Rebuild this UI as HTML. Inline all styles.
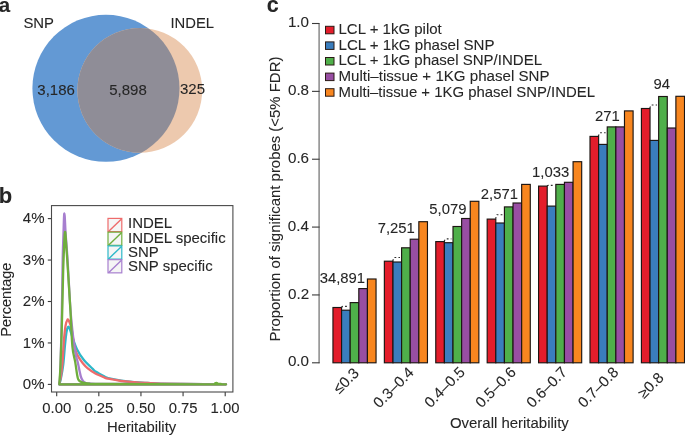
<!DOCTYPE html>
<html><head><meta charset="utf-8"><style>
html,body{margin:0;padding:0;background:#fff;width:685px;height:436px;overflow:hidden}
svg{display:block;will-change:transform}
text{font-family:"Liberation Sans",sans-serif;fill:#262626;stroke:#262626;stroke-width:0.08px}
</style></head><body>
<svg width="685" height="436" viewBox="0 0 685 436">
<rect width="685" height="436" fill="#fff"/>
<rect x="332.95" y="307.50" width="8.62" height="55.30" fill="#E31D2B" stroke="#1c1512" stroke-width="1.15"/>
<rect x="341.57" y="310.20" width="8.62" height="52.60" fill="#3A7DBD" stroke="#1c1512" stroke-width="1.15"/>
<rect x="350.19" y="302.60" width="8.62" height="60.20" fill="#4FAF4A" stroke="#1c1512" stroke-width="1.15"/>
<rect x="358.81" y="288.60" width="8.62" height="74.20" fill="#984EA3" stroke="#1c1512" stroke-width="1.15"/>
<rect x="367.43" y="279.00" width="8.62" height="83.80" fill="#F8861F" stroke="#1c1512" stroke-width="1.15"/>
<rect x="384.36" y="261.20" width="8.62" height="101.60" fill="#E31D2B" stroke="#1c1512" stroke-width="1.15"/>
<rect x="392.98" y="262.00" width="8.62" height="100.80" fill="#3A7DBD" stroke="#1c1512" stroke-width="1.15"/>
<rect x="401.60" y="247.80" width="8.62" height="115.00" fill="#4FAF4A" stroke="#1c1512" stroke-width="1.15"/>
<rect x="410.22" y="239.20" width="8.62" height="123.60" fill="#984EA3" stroke="#1c1512" stroke-width="1.15"/>
<rect x="418.84" y="221.70" width="8.62" height="141.10" fill="#F8861F" stroke="#1c1512" stroke-width="1.15"/>
<rect x="435.77" y="241.60" width="8.62" height="121.20" fill="#E31D2B" stroke="#1c1512" stroke-width="1.15"/>
<rect x="444.39" y="242.70" width="8.62" height="120.10" fill="#3A7DBD" stroke="#1c1512" stroke-width="1.15"/>
<rect x="453.01" y="226.50" width="8.62" height="136.30" fill="#4FAF4A" stroke="#1c1512" stroke-width="1.15"/>
<rect x="461.63" y="218.50" width="8.62" height="144.30" fill="#984EA3" stroke="#1c1512" stroke-width="1.15"/>
<rect x="470.25" y="201.30" width="8.62" height="161.50" fill="#F8861F" stroke="#1c1512" stroke-width="1.15"/>
<rect x="487.18" y="219.10" width="8.62" height="143.70" fill="#E31D2B" stroke="#1c1512" stroke-width="1.15"/>
<rect x="495.80" y="223.00" width="8.62" height="139.80" fill="#3A7DBD" stroke="#1c1512" stroke-width="1.15"/>
<rect x="504.42" y="206.90" width="8.62" height="155.90" fill="#4FAF4A" stroke="#1c1512" stroke-width="1.15"/>
<rect x="513.04" y="203.00" width="8.62" height="159.80" fill="#984EA3" stroke="#1c1512" stroke-width="1.15"/>
<rect x="521.66" y="184.40" width="8.62" height="178.40" fill="#F8861F" stroke="#1c1512" stroke-width="1.15"/>
<rect x="538.59" y="186.10" width="8.62" height="176.70" fill="#E31D2B" stroke="#1c1512" stroke-width="1.15"/>
<rect x="547.21" y="206.10" width="8.62" height="156.70" fill="#3A7DBD" stroke="#1c1512" stroke-width="1.15"/>
<rect x="555.83" y="184.40" width="8.62" height="178.40" fill="#4FAF4A" stroke="#1c1512" stroke-width="1.15"/>
<rect x="564.45" y="182.30" width="8.62" height="180.50" fill="#984EA3" stroke="#1c1512" stroke-width="1.15"/>
<rect x="573.07" y="161.70" width="8.62" height="201.10" fill="#F8861F" stroke="#1c1512" stroke-width="1.15"/>
<rect x="590.00" y="136.40" width="8.62" height="226.40" fill="#E31D2B" stroke="#1c1512" stroke-width="1.15"/>
<rect x="598.62" y="144.40" width="8.62" height="218.40" fill="#3A7DBD" stroke="#1c1512" stroke-width="1.15"/>
<rect x="607.24" y="126.90" width="8.62" height="235.90" fill="#4FAF4A" stroke="#1c1512" stroke-width="1.15"/>
<rect x="615.86" y="126.90" width="8.62" height="235.90" fill="#984EA3" stroke="#1c1512" stroke-width="1.15"/>
<rect x="624.48" y="110.90" width="8.62" height="251.90" fill="#F8861F" stroke="#1c1512" stroke-width="1.15"/>
<rect x="641.41" y="108.50" width="8.62" height="254.30" fill="#E31D2B" stroke="#1c1512" stroke-width="1.15"/>
<rect x="650.03" y="140.40" width="8.62" height="222.40" fill="#3A7DBD" stroke="#1c1512" stroke-width="1.15"/>
<rect x="658.65" y="96.50" width="8.62" height="266.30" fill="#4FAF4A" stroke="#1c1512" stroke-width="1.15"/>
<rect x="667.27" y="128.00" width="8.62" height="234.80" fill="#984EA3" stroke="#1c1512" stroke-width="1.15"/>
<rect x="675.89" y="96.30" width="8.62" height="266.50" fill="#F8861F" stroke="#1c1512" stroke-width="1.15"/>
<path d="M341.27 307.20 L342.77 306.40 H348.57" fill="none" stroke="#2a2a2a" stroke-width="1.15" stroke-dasharray="1.8 2.2"/>
<path d="M392.68 260.90 L394.18 257.50 H399.98" fill="none" stroke="#2a2a2a" stroke-width="1.15" stroke-dasharray="1.8 2.2"/>
<path d="M444.09 241.30 L445.59 238.90 H451.39" fill="none" stroke="#2a2a2a" stroke-width="1.15" stroke-dasharray="1.8 2.2"/>
<path d="M495.50 218.80 L497.00 214.70 H502.80" fill="none" stroke="#2a2a2a" stroke-width="1.15" stroke-dasharray="1.8 2.2"/>
<path d="M546.91 185.80 L548.41 185.30 H554.21" fill="none" stroke="#2a2a2a" stroke-width="1.15" stroke-dasharray="1.8 2.2"/>
<path d="M598.32 136.10 L599.82 132.70 H605.62" fill="none" stroke="#2a2a2a" stroke-width="1.15" stroke-dasharray="1.8 2.2"/>
<path d="M649.73 108.20 L651.23 105.00 H657.03" fill="none" stroke="#2a2a2a" stroke-width="1.15" stroke-dasharray="1.8 2.2"/>
<line x1="319.1" y1="23.5" x2="319.1" y2="363.3" stroke="#808080" stroke-width="1.4"/>
<line x1="312" y1="362.80" x2="319.6" y2="362.80" stroke="#3a3a3a" stroke-width="1.1"/>
<line x1="312" y1="294.94" x2="319.6" y2="294.94" stroke="#3a3a3a" stroke-width="1.1"/>
<line x1="312" y1="227.08" x2="319.6" y2="227.08" stroke="#3a3a3a" stroke-width="1.1"/>
<line x1="312" y1="159.22" x2="319.6" y2="159.22" stroke="#3a3a3a" stroke-width="1.1"/>
<line x1="312" y1="91.36" x2="319.6" y2="91.36" stroke="#3a3a3a" stroke-width="1.1"/>
<line x1="312" y1="23.50" x2="319.6" y2="23.50" stroke="#3a3a3a" stroke-width="1.1"/>
<text transform="translate(280.3,341.49) rotate(-90)" font-size="14.93">Proportion of significant probes (&lt;5% FDR)</text>
<text transform="translate(359.90,374.00) rotate(-45)" font-size="15.0" text-anchor="end">≤0.3</text>
<text transform="translate(414.71,373.40) rotate(-45)" font-size="15.0" text-anchor="end">0.3–0.4</text>
<text transform="translate(465.82,373.00) rotate(-45)" font-size="15.0" text-anchor="end">0.4–0.5</text>
<text transform="translate(516.83,373.20) rotate(-45)" font-size="15.0" text-anchor="end">0.5–0.6</text>
<text transform="translate(567.94,373.20) rotate(-45)" font-size="15.0" text-anchor="end">0.6–0.7</text>
<text transform="translate(619.35,373.20) rotate(-45)" font-size="15.0" text-anchor="end">0.7–0.8</text>
<text transform="translate(664.56,378.60) rotate(-45)" font-size="15.0" text-anchor="end">≥0.8</text>
<rect x="325.5" y="26.30" width="8.5" height="7.5" fill="#E31D2B" stroke="#2a1a14" stroke-width="1"/>
<rect x="325.5" y="41.90" width="8.5" height="7.5" fill="#3A7DBD" stroke="#2a1a14" stroke-width="1"/>
<rect x="325.5" y="57.50" width="8.5" height="7.5" fill="#4FAF4A" stroke="#2a1a14" stroke-width="1"/>
<rect x="325.5" y="73.10" width="8.5" height="7.5" fill="#984EA3" stroke="#2a1a14" stroke-width="1"/>
<rect x="325.5" y="88.70" width="8.5" height="7.5" fill="#F8861F" stroke="#2a1a14" stroke-width="1"/>
<clipPath id="cb"><circle cx="105.95" cy="88.3" r="73.55"/></clipPath>
<circle cx="105.95" cy="88.3" r="73.55" fill="#6399D4"/>
<circle cx="139.8" cy="90.3" r="62.4" fill="#EDC9AE"/>
<circle cx="139.8" cy="90.3" r="62.4" fill="#8F8D97" clip-path="url(#cb)"/>
<line x1="47.8" y1="384.40" x2="51.5" y2="384.40" stroke="#3a3a3a" stroke-width="1.1"/>
<line x1="47.8" y1="342.95" x2="51.5" y2="342.95" stroke="#3a3a3a" stroke-width="1.1"/>
<line x1="47.8" y1="301.50" x2="51.5" y2="301.50" stroke="#3a3a3a" stroke-width="1.1"/>
<line x1="47.8" y1="260.05" x2="51.5" y2="260.05" stroke="#3a3a3a" stroke-width="1.1"/>
<line x1="47.8" y1="218.60" x2="51.5" y2="218.60" stroke="#3a3a3a" stroke-width="1.1"/>
<line x1="56.70" y1="392.0" x2="56.70" y2="396.3" stroke="#3a3a3a" stroke-width="1.1"/>
<line x1="98.83" y1="392.0" x2="98.83" y2="396.3" stroke="#3a3a3a" stroke-width="1.1"/>
<line x1="140.95" y1="392.0" x2="140.95" y2="396.3" stroke="#3a3a3a" stroke-width="1.1"/>
<line x1="183.07" y1="392.0" x2="183.07" y2="396.3" stroke="#3a3a3a" stroke-width="1.1"/>
<line x1="225.20" y1="392.0" x2="225.20" y2="396.3" stroke="#3a3a3a" stroke-width="1.1"/>
<text transform="translate(10.9,336.76) rotate(-90)" font-size="14.49">Percentage</text>
<rect x="51.5" y="205.6" width="181.40" height="186.40" fill="none" stroke="#4a4a4a" stroke-width="1.1"/>
<path d="M59.30 384.30 C59.58 383.25 60.33 381.38 61.00 378.00 C61.67 374.62 62.63 369.50 63.30 364.00 C63.97 358.50 64.47 350.33 65.00 345.00 C65.53 339.67 66.02 334.95 66.50 332.00 C66.98 329.05 67.40 327.97 67.90 327.30 C68.40 326.63 68.73 326.30 69.50 328.00 C70.27 329.70 71.23 333.93 72.50 337.50 C73.77 341.07 75.27 345.73 77.10 349.40 C78.93 353.07 80.90 356.25 83.50 359.50 C86.10 362.75 90.62 366.85 92.70 368.90 C94.78 370.95 94.02 370.53 96.00 371.80 C97.98 373.07 102.58 375.47 104.60 376.50 C106.62 377.53 105.32 377.32 108.10 378.00 C110.88 378.68 116.92 379.90 121.30 380.60 C125.68 381.30 130.02 381.80 134.40 382.20 C138.78 382.60 143.22 382.77 147.60 383.00 C151.98 383.23 154.47 383.43 160.70 383.60 C166.93 383.77 174.12 383.88 185.00 384.00 C195.88 384.12 219.17 384.25 226.00 384.30 L59.30 384.30" fill="none" stroke="#2DB8C9" stroke-width="2.3" stroke-linejoin="round" stroke-linecap="round"/>
<path d="M59.30 384.30 C59.58 382.92 60.48 379.38 61.00 376.00 C61.52 372.62 61.93 369.67 62.40 364.00 C62.87 358.33 63.28 348.33 63.80 342.00 C64.32 335.67 64.90 329.70 65.50 326.00 C66.10 322.30 66.82 320.63 67.40 319.80 C67.98 318.97 68.30 319.47 69.00 321.00 C69.70 322.53 70.93 326.17 71.60 329.00 C72.27 331.83 72.55 335.25 73.00 338.00 C73.45 340.75 73.80 343.17 74.30 345.50 C74.80 347.83 75.23 349.97 76.00 352.00 C76.77 354.03 77.73 355.78 78.90 357.70 C80.07 359.62 81.47 361.67 83.00 363.50 C84.53 365.33 86.03 367.02 88.10 368.70 C90.17 370.38 92.65 372.12 95.40 373.60 C98.15 375.08 102.48 376.75 104.60 377.60 C106.72 378.45 105.32 378.13 108.10 378.70 C110.88 379.27 116.92 380.42 121.30 381.00 C125.68 381.58 130.02 381.87 134.40 382.20 C138.78 382.53 143.22 382.77 147.60 383.00 C151.98 383.23 154.47 383.43 160.70 383.60 C166.93 383.77 174.12 383.88 185.00 384.00 C195.88 384.12 219.17 384.25 226.00 384.30 L59.30 384.30" fill="none" stroke="#EE6B6B" stroke-width="2.3" stroke-linejoin="round" stroke-linecap="round"/>
<path d="M59.30 384.30 C59.47 382.25 59.90 382.72 60.30 372.00 C60.70 361.28 61.30 338.83 61.70 320.00 C62.10 301.17 62.40 273.50 62.70 259.00 C63.00 244.50 63.27 240.23 63.50 233.00 C63.73 225.77 63.90 218.47 64.10 215.60 C64.30 212.73 64.45 212.90 64.70 215.80 C64.95 218.70 65.13 225.80 65.60 233.00 C66.07 240.20 66.68 246.17 67.50 259.00 C68.32 271.83 69.50 296.50 70.50 310.00 C71.50 323.50 72.62 332.50 73.50 340.00 C74.38 347.50 75.10 351.33 75.80 355.00 C76.50 358.67 76.87 358.43 77.70 362.00 C78.53 365.57 79.92 373.23 80.80 376.40 C81.68 379.57 82.30 379.98 83.00 381.00 C83.70 382.02 83.83 382.08 85.00 382.50 C86.17 382.92 84.17 383.25 90.00 383.50 C95.83 383.75 97.33 383.87 120.00 384.00 C142.67 384.13 208.33 384.25 226.00 384.30 L59.30 384.30" fill="none" stroke="#A77FCF" stroke-width="2.3" stroke-linejoin="round" stroke-linecap="round"/>
<path d="M59.30 384.30 C59.50 381.08 60.05 375.72 60.50 365.00 C60.95 354.28 61.55 335.83 62.00 320.00 C62.45 304.17 62.80 283.33 63.20 270.00 C63.60 256.67 64.10 246.28 64.40 240.00 C64.70 233.72 64.80 232.97 65.00 232.30 C65.20 231.63 65.23 231.55 65.60 236.00 C65.97 240.45 66.40 246.67 67.20 259.00 C68.00 271.33 69.53 295.38 70.40 310.00 C71.27 324.62 71.60 338.05 72.40 346.70 C73.20 355.35 74.43 357.35 75.20 361.90 C75.97 366.45 76.48 371.07 77.00 374.00 C77.52 376.93 77.67 378.20 78.30 379.50 C78.93 380.80 79.85 381.25 80.80 381.80 C81.75 382.35 82.47 382.50 84.00 382.80 C85.53 383.10 87.33 383.42 90.00 383.60 C92.67 383.78 79.67 383.78 100.00 383.90 C120.33 384.02 192.83 384.38 212.00 384.30 C231.17 384.22 214.17 383.62 215.00 383.40 C215.83 383.18 216.33 382.85 217.00 383.00 C217.67 383.15 217.50 384.08 219.00 384.30 C220.50 384.52 224.83 384.30 226.00 384.30 L59.30 384.30" fill="none" stroke="#6FAE3C" stroke-width="2.3" stroke-linejoin="round" stroke-linecap="round"/>
<rect x="108" y="218.40" width="13.8" height="13.2" fill="#F5F5F5" stroke="#EE6B6B" stroke-width="1.2"/>
<line x1="108.5" y1="231.40" x2="121.5" y2="218.90" stroke="#EE6B6B" stroke-width="1.4"/>
<rect x="108" y="232.15" width="13.8" height="13.2" fill="#F5F5F5" stroke="#6FAE3C" stroke-width="1.2"/>
<line x1="108.5" y1="245.15" x2="121.5" y2="232.65" stroke="#6FAE3C" stroke-width="1.4"/>
<rect x="108" y="245.90" width="13.8" height="13.2" fill="#F5F5F5" stroke="#2DB8C9" stroke-width="1.2"/>
<line x1="108.5" y1="258.90" x2="121.5" y2="246.40" stroke="#2DB8C9" stroke-width="1.4"/>
<rect x="108" y="259.65" width="13.8" height="13.2" fill="#F5F5F5" stroke="#A77FCF" stroke-width="1.2"/>
<line x1="108.5" y1="272.65" x2="121.5" y2="260.15" stroke="#A77FCF" stroke-width="1.4"/>
<text x="128.05" y="228.40" font-size="14.98">INDEL</text>
<text x="128.05" y="242.60" font-size="14.98">INDEL specific</text>
<text x="128.05" y="256.80" font-size="14.98">SNP</text>
<text x="128.05" y="271.00" font-size="14.98">SNP specific</text>
<text x="-1.38" y="11.60" font-size="20.50" font-weight="bold">a</text>
<text x="23.43" y="28.10" font-size="14.90">SNP</text>
<text x="170.47" y="28.00" font-size="14.82">INDEL</text>
<text x="37.30" y="94.50" font-size="15.00">3,186</text>
<text x="109.20" y="94.50" font-size="15.00">5,898</text>
<text x="180.01" y="94.40" font-size="15.00">325</text>
<text x="-1.24" y="202.80" font-size="22.00" font-weight="bold">b</text>
<text x="22.85" y="389.10" font-size="15.00">0%</text>
<text x="22.85" y="347.65" font-size="15.00">1%</text>
<text x="22.85" y="306.20" font-size="15.00">2%</text>
<text x="22.85" y="264.75" font-size="15.00">3%</text>
<text x="22.85" y="223.30" font-size="15.00">4%</text>
<text x="42.26" y="412.60" font-size="14.85">0.00</text>
<text x="84.38" y="412.60" font-size="14.85">0.25</text>
<text x="126.51" y="412.60" font-size="14.85">0.50</text>
<text x="168.63" y="412.60" font-size="14.85">0.75</text>
<text x="210.50" y="412.60" font-size="14.85">1.00</text>
<text x="106.91" y="432.20" font-size="14.85">Heritability</text>
<text x="266.63" y="11.70" font-size="21.50" font-weight="bold">c</text>
<text x="287.88" y="366.40" font-size="15.20">0.0</text>
<text x="288.03" y="298.54" font-size="15.20">0.2</text>
<text x="287.73" y="230.68" font-size="15.20">0.4</text>
<text x="287.96" y="162.82" font-size="15.20">0.6</text>
<text x="287.96" y="94.96" font-size="15.20">0.8</text>
<text x="287.88" y="27.10" font-size="15.20">1.0</text>
<text x="449.93" y="428.00" font-size="14.96">Overall heritability</text>
<text x="338.50" y="34.10" font-size="15.01">LCL + 1kG pilot</text>
<text x="338.49" y="49.70" font-size="15.11">LCL + 1kG phasel SNP</text>
<text x="338.50" y="65.30" font-size="15.03">LCL + 1kG phasel SNP/INDEL</text>
<text x="338.49" y="80.90" font-size="15.10">Multi–tissue + 1KG phasel SNP</text>
<text x="338.51" y="96.50" font-size="14.92">Multi–tissue + 1KG phasel SNP/INDEL</text>
<text x="319.70" y="282.60" font-size="14.85">34,891</text>
<text x="377.70" y="232.70" font-size="14.85">7,251</text>
<text x="429.37" y="214.10" font-size="14.85">5,079</text>
<text x="480.85" y="198.90" font-size="14.85">2,571</text>
<text x="532.08" y="176.90" font-size="14.85">1,033</text>
<text x="594.95" y="120.50" font-size="14.85">271</text>
<text x="653.56" y="89.30" font-size="14.85">94</text>
</svg>
</body></html>
